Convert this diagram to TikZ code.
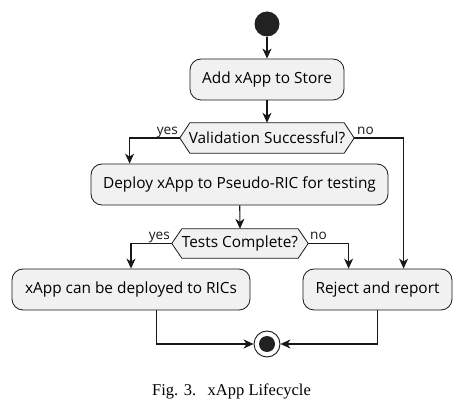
\documentclass[tikz,border=0pt]{standalone}
\usepackage{fontspec}
\setmainfont{Liberation Serif}
\newfontfamily\diagfont{Open Sans}
\usetikzlibrary{arrows.meta,calc}
\definecolor{linec}{HTML}{181818}
\definecolor{boxf}{HTML}{F1F1F1}
\definecolor{dotc}{HTML}{222222}
\tikzset{
  act/.style={draw=linec, fill=boxf, rounded corners=11pt, line width=0.8pt,
    font=\diagfont\fontsize{15.4}{18}\selectfont, inner sep=0pt, minimum height=41pt},
  dectext/.style={font=\diagfont\fontsize{15.4}{18}\selectfont, inner sep=0pt},
  decshape/.style={draw=linec, fill=boxf, line width=0.8pt, line join=miter},
  flow/.style={draw=linec, line width=1.1pt, -{Stealth[length=10pt,width=9pt,inset=3pt]}},
  lab/.style={font=\diagfont\fontsize{13.6}{16}\selectfont, inner sep=0pt, text=linec},
}
\begin{document}
\begin{tikzpicture}[x=1pt,y=-1pt]
\useasboundingbox (0,0) rectangle (474,411);
% start
\node (start) [circle, fill=dotc, minimum size=25pt, inner sep=0pt] at (267,24) {};
% Add xApp
\node (a1) [act, minimum width=154pt] at (267,79.5) {Add xApp to Store};
% decision 1
\node (d1) [dectext, minimum width=154pt, minimum height=30pt] at (267,138) {};
\coordinate (d1w) at ($(d1.west)+(-10,0)$);
\coordinate (d1e) at ($(d1.east)+(10,0)$);
\draw[decshape] (d1.north west) -- (d1.north east) -- (d1e) -- (d1.south east) -- (d1.south west) -- (d1w) -- cycle;
\node (d1t) [dectext] at (d1) {Validation Successful?};
% Deploy
\node (a2) [act, minimum width=297pt] at (239.5,184.5) {Deploy xApp to Pseudo-RIC for testing};
\coordinate (a2in) at ($(a2.north west)+(39,0)$);
% decision 2
\node (d2) [dectext, minimum width=116pt, minimum height=29pt] at (240,243.5) {};
\coordinate (d2w) at ($(d2.west)+(-10,0)$);
\coordinate (d2e) at ($(d2.east)+(10,0)$);
\draw[decshape] (d2.north west) -- (d2.north east) -- (d2e) -- (d2.south east) -- (d2.south west) -- (d2w) -- cycle;
\node (d2t) [dectext] at (d2) {Tests Complete?};
% outcomes
\node (a3) [act, minimum width=238pt] at (131,289.5) {xApp can be deployed to RICs};
\node (a4) [act, minimum width=149pt] at (377.5,289.5) {Reject and report};
\coordinate (a4in1) at ($(a4.north west)+(101,0)$);
\coordinate (a4in2) at ($(a4.north west)+(46,0)$);
\coordinate (a3out) at ($(a3.south west)+(145,0)$);
% end
\node (end) [circle, draw=linec, fill=white, line width=0.9pt, minimum size=26pt, inner sep=0pt] at (267,344) {};
\node (endin) [circle, fill=dotc, minimum size=16pt, inner sep=0pt] at (end) {};
% connectors
\draw[flow] (start) -- (a1);
\draw[flow] (a1) -- (d1.north);
\draw[flow] (d1w) -| (a2in);
\draw[flow] (d1e) -| (a4in1);
\draw[flow] (a2) -- (d2.north);
\draw[flow] (d2w) -| (a3);
\draw[flow] (d2e) -| (a4in2);
\draw[flow] (a3out) |- (end);
\draw[flow] (a4) |- (end);
% labels
\node (y1) [lab, anchor=base east] at (178,135) {yes};
\node (n1) [lab, anchor=base west] at (357,135) {no};
\node (y2) [lab, anchor=base east] at (170,240) {yes};
\node (n2) [lab, anchor=base west] at (310,240) {no};
% caption
\node (cap) [font=\fontsize{16.5}{19}\selectfont, inner sep=0pt, anchor=base] at (231.5,396) {Fig. 3.\hspace{0.7em}xApp Lifecycle};
\end{tikzpicture}
\end{document}
